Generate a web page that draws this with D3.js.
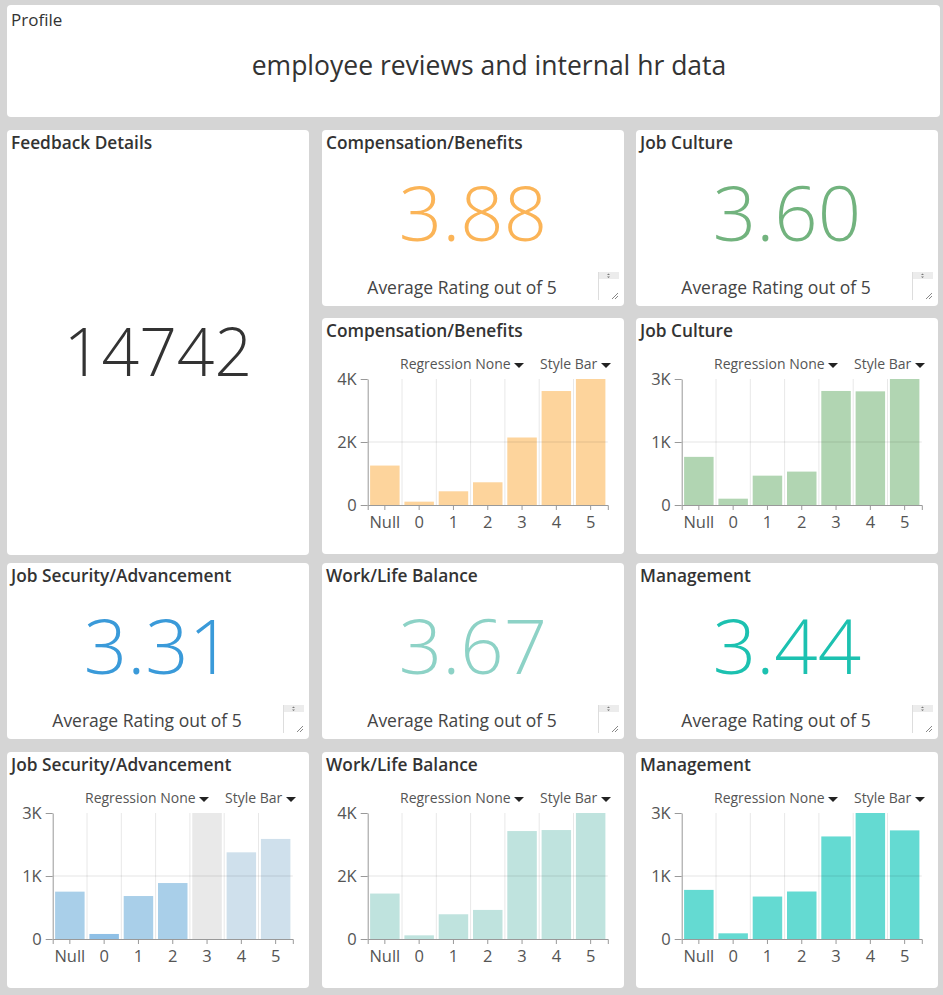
<!DOCTYPE html>
<html>
<head>
<meta charset="utf-8">
<script src="https://cdn.jsdelivr.net/npm/d3@7"></script>
<style>
  body { margin: 0; background: #d5d5d5; }
  svg { display: block; font-family: 'Open Sans', sans-serif; }
</style>
</head>
<body>
<svg id="dash" width="943" height="995"></svg>
<script>
// rating buckets shown on each bar chart
const ratings = ['Null', '0', '1', '2', '3', '4', '5']

// review counts per rating
const compCounts = [1252, 106, 435, 721, 2143, 3618, 4000]
const cultureCounts = [1127, 148, 687, 782, 2670, 2661, 2950]
const securityCounts = [1090, 116, 989, 1288, 2900, 1995, 2303]
const balanceCounts = [1443, 116, 785, 923, 3427, 3459, 4000]
const managementCounts = [1150, 133, 994, 1112, 2401, 2950, 2543]

// average rating tiles
const kpiTitles = ['Compensation/Benefits', 'Job Culture', 'Job Security/Advancement', 'Work/Life Balance', 'Management']
const kpiValues = [3.88, 3.60, 3.31, 3.67, 3.44]

const totalFeedback = 14742
const profileText = 'employee reviews and internal hr data'

const svg = d3.select('#dash')
const fmtK = v => d3.format('.1s')(v).replace('k', 'K')

/**
 * Draws an empty white panel with its title.
 */
function panel (x, y, w, h, title, weight) {
  const g = svg.append('g').attr('transform', `translate(${x},${y})`)
  g.append('rect')
    .attr('width', w).attr('height', h)
    .attr('rx', 4)
    .attr('fill', '#fff')
  g.append('text')
    .attr('x', 4).attr('y', 19)
    .style('font-size', '17.3px')
    .style('font-weight', weight || 600)
    .attr('fill', '#333')
    .text(title)
  return g
}

/**
 * Small resize widget sitting in the corner of the tiles.
 */
function resizeHandle (g) {
  const h = g.append('g').attr('transform', 'translate(276,142)')
  h.append('rect').attr('width', 21).attr('height', 7).attr('fill', '#ececec')
  h.append('line').attr('x1', 0.5).attr('x2', 0.5).attr('y1', 0).attr('y2', 28).attr('stroke', '#ddd')
  h.append('path').attr('d', 'M9,3 L12,3 L10.5,1.5Z M9,4.5 L12,4.5 L10.5,6Z').attr('fill', '#777')
  h.append('path')
    .attr('d', 'M14,27 L20,21 M17,27 L20,24')
    .attr('stroke', '#888').attr('stroke-width', 1).attr('fill', 'none')
}

/**
 * Average rating tile.
 */
function kpiTile (x, y, i, color) {
  const g = panel(x, y, 302, 176, kpiTitles[i])
  g.append('text')
    .attr('x', 151).attr('y', 111)
    .attr('text-anchor', 'middle')
    .style('font-size', '76px')
    .style('font-weight', 300)
    .attr('fill', color)
    .text(d3.format('.2f')(kpiValues[i]))
  g.append('text')
    .attr('x', 140).attr('y', 164)
    .attr('text-anchor', 'middle')
    .style('font-size', '17.5px')
    .attr('fill', '#444')
    .text('Average Rating out of 5')
  resizeHandle(g)
}

/**
 * Rating distribution bar chart tile.
 */
function barTile (x, y, i, counts, colors) {
  const g = panel(x, y, 302, 236, kpiTitles[i])

  // dropdown controls
  const drop = [['Regression None', 78, 197], ['Style Bar', 218, 284]]
  drop.forEach(([label, tx, ax]) => {
    g.append('text')
      .attr('x', tx).attr('y', 51)
      .style('font-size', '14px')
      .attr('fill', '#555')
      .text(label)
    g.append('path')
      .attr('d', `M${ax - 5},45 L${ax + 5},45 L${ax},50Z`)
      .attr('fill', '#222')
  })

  const max = d3.max(counts)
  const xScale = d3.scaleBand()
    .domain(ratings)
    .range([45.7, 285.8])
    .paddingInner(0.14)
    .paddingOuter(0.07)
  const yScale = d3.scaleLinear().domain([0, max]).range([187, 61])
  const step = xScale.step()

  // vertical grid between the bands
  g.append('g').selectAll('line')
    .data(d3.range(1, ratings.length))
    .join('line')
    .attr('x1', k => 45.7 + k * step).attr('x2', k => 45.7 + k * step)
    .attr('y1', 61).attr('y2', 187)
    .attr('stroke', '#e8e8e8')

  g.append('g').selectAll('rect')
    .data(counts)
    .join('rect')
    .attr('x', (d, j) => xScale(ratings[j]))
    .attr('width', xScale.bandwidth())
    .attr('y', d => yScale(d))
    .attr('height', d => yScale(0) - yScale(d))
    .attr('fill', (d, j) => Array.isArray(colors) ? colors[j] : colors)

  // faint gridline at the middle tick, over the bars
  g.append('line')
    .attr('x1', 45.7).attr('x2', 285.8)
    .attr('y1', yScale(max / 2)).attr('y2', yScale(max / 2))
    .attr('stroke', 'rgba(0,0,0,0.07)')
    .attr('stroke-width', 1.5)

  const yAxis = g.append('g')
    .attr('transform', 'translate(45.7,0)')
    .call(d3.axisLeft(yScale).tickValues([0, max / 2, max]).tickFormat(fmtK).tickSize(7).tickSizeOuter(0).tickPadding(4))
  const xAxis = g.append('g')
    .attr('transform', 'translate(0,187)')
    .call(d3.axisBottom(xScale).tickSize(5).tickSizeOuter(5).tickPadding(6))

  ;[yAxis, xAxis].forEach(a => {
    a.selectAll('path, line').attr('stroke', '#999')
    a.selectAll('text')
      .style('font-size', '16.5px')
      .style('font-family', "'Open Sans', sans-serif")
      .attr('fill', '#555')
  })
  yAxis.selectAll('text').attr('dy', '0.36em')
}

// header
const prof = panel(7, 5, 933, 112, 'Profile', 400)
prof.select('text').attr('y', 21).style('font-size', '17px')
prof.append('text')
  .attr('x', 482).attr('y', 70)
  .attr('text-anchor', 'middle')
  .style('font-size', '26.5px')
  .attr('fill', '#333')
  .text(profileText)

// total feedback tile
const fb = panel(7, 130, 302, 425, 'Feedback Details')
fb.append('text')
  .attr('x', 151).attr('y', 246)
  .attr('text-anchor', 'middle')
  .style('font-size', '66px')
  .style('font-weight', 300)
  .attr('fill', '#333')
  .text(totalFeedback)

kpiTile(322, 130, 0, '#fbb457')
kpiTile(636, 130, 1, '#72b37e')
barTile(322, 318, 0, compCounts, '#fdd49c')
barTile(636, 318, 1, cultureCounts, '#b1d5b2')

kpiTile(7, 563, 2, '#3a9ad9')
kpiTile(322, 563, 3, '#8dd2c6')
kpiTile(636, 563, 4, '#1cc1b0')
barTile(7, 752, 2, securityCounts, ['#a9cfe9', '#8fc0e6', '#a9cfe9', '#a9cfe9', '#e9e9e9', '#cfe0ec', '#cfe0ec'])
barTile(322, 752, 3, balanceCounts, '#bfe3de')
barTile(636, 752, 4, managementCounts, '#64dad2')
</script>
</body>
</html>
